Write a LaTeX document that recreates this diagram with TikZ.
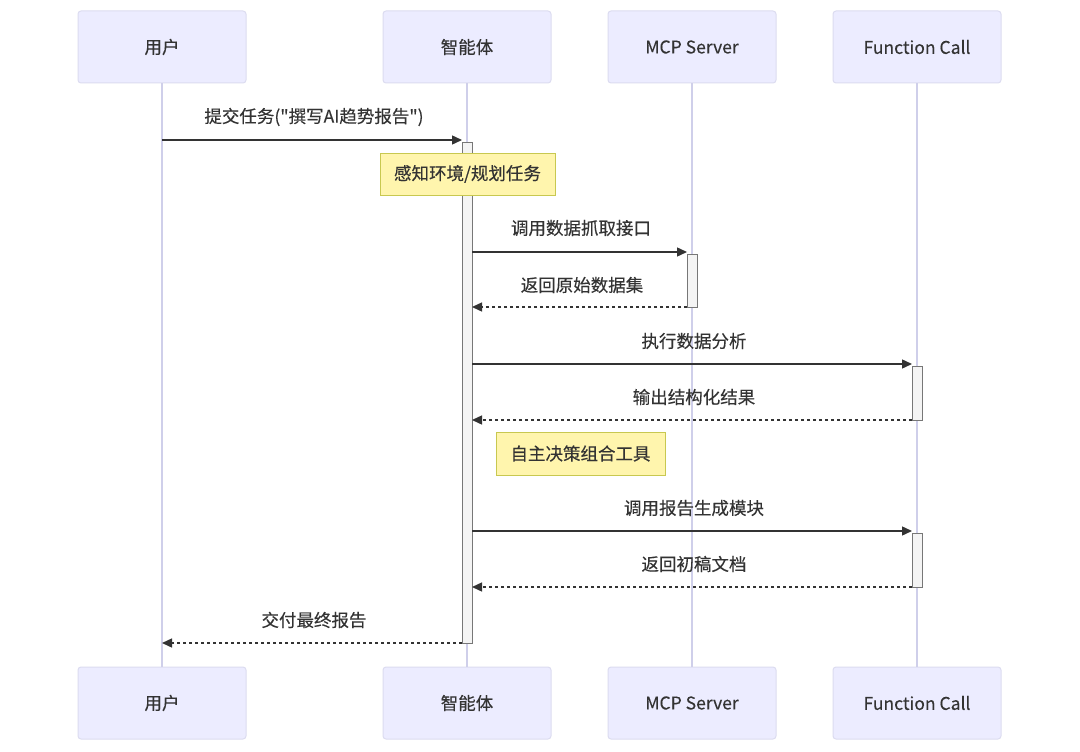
\documentclass[tikz,border=0pt]{standalone}
\usepackage{fontspec}
\setmainfont{Noto Sans CJK SC}[FakeBold=0.25]
\usetikzlibrary{arrows.meta}
\newcommand{\dq}{\XeTeXglyph\XeTeXcharglyph"22\relax}
\definecolor{actfill}{HTML}{ECECFF}
\definecolor{actdraw}{HTML}{DCDCF0}
\definecolor{life}{HTML}{CFCFEA}
\definecolor{txt}{HTML}{333333}
\definecolor{notefill}{HTML}{FFF5AD}
\definecolor{notedraw}{HTML}{C8C850}
\definecolor{barfill}{HTML}{F4F4F4}
\definecolor{bardraw}{HTML}{777777}
\tikzset{
  actor/.style={draw=actdraw, line width=1pt, fill=actfill, rounded corners=3pt, minimum width=168pt, minimum height=72pt, inner sep=0pt, text=txt, font=\fontsize{17.5}{20}\selectfont},
  lifeline/.style={draw=life, line width=1.5pt},
  bar/.style={draw=bardraw, line width=0.8pt, fill=barfill},
  notebox/.style={draw=notedraw, line width=0.8pt, fill=notefill, inner sep=0pt, text=txt, font=\fontsize{17.5}{20}\selectfont},
  msg/.style={draw=txt, line width=1.4pt, -{Triangle[length=10pt,width=9pt]}},
  reply/.style={msg, dash pattern=on 3pt off 3pt},
  lbl/.style={text=txt, font=\fontsize{17.5}{20}\selectfont, inner sep=0pt}
}
\begin{document}
\begin{tikzpicture}[x=1pt,y=-1pt]
\useasboundingbox[fill=white] (0,0) rectangle (1080,752);
% participants
\node[actor] (u1) at (162,47) {用户};
\node[actor] (a1) at (467,47) {智能体};
\node[actor] (m1) at (692,47) {MCP Server};
\node[actor] (f1) at (917,47) {Function Call};
\node[actor] (u2) at (162,703) {用户};
\node[actor] (a2) at (467,703) {智能体};
\node[actor] (m2) at (692,703) {MCP Server};
\node[actor] (f2) at (917,703) {Function Call};
% lifelines
\draw[lifeline] (u1) -- (u2);
\draw[lifeline] (a1) -- (a2);
\draw[lifeline] (m1) -- (m2);
\draw[lifeline] (f1) -- (f2);
% activations
\draw[bar] (462,142) rectangle (472,643);
\draw[bar] (687,254) rectangle (697,307);
\draw[bar] (912,366) rectangle (922,420);
\draw[bar] (912,533) rectangle (922,587);
% notes
\node[notebox, minimum width=175pt, minimum height=42pt] (n1) at (467.5,174) {感知环境/规划任务};
\node[notebox, minimum width=169pt, minimum height=43pt] (n2) at (580.5,453.5) {自主决策组合工具};
% coordinates for message ends
\coordinate (s1) at (162,140); \coordinate (e1) at (462,140);
\coordinate (s2) at (472,252); \coordinate (e2) at (687,252);
\coordinate (s3) at (687,307); \coordinate (e3) at (472,307);
\coordinate (s4) at (472,364); \coordinate (e4) at (912,364);
\coordinate (s5) at (912,420); \coordinate (e5) at (472,420);
\coordinate (s6) at (472,531); \coordinate (e6) at (912,531);
\coordinate (s7) at (912,587); \coordinate (e7) at (472,587);
\coordinate (s8) at (462,643); \coordinate (e8) at (162,643);
% messages
\draw[msg] (s1) -- (e1);
\draw[msg] (s2) -- (e2);
\draw[reply] (s3) -- (e3);
\draw[msg] (s4) -- (e4);
\draw[reply] (s5) -- (e5);
\draw[msg] (s6) -- (e6);
\draw[reply] (s7) -- (e7);
\draw[reply] (s8) -- (e8);
% labels
\node[lbl] (l1) at (314,117) {提交任务(\dq 撰写AI趋势报告\dq)};
\node[lbl] (l2) at (581,228) {调用数据抓取接口};
\node[lbl] (l3) at (582,285) {返回原始数据集};
\node[lbl] (l4) at (694,341) {执行数据分析};
\node[lbl] (l5) at (694,397) {输出结构化结果};
\node[lbl] (l6) at (694,508) {调用报告生成模块};
\node[lbl] (l7) at (694,564) {返回初稿文档};
\node[lbl] (l8) at (314,620) {交付最终报告};
\end{tikzpicture}
\end{document}
